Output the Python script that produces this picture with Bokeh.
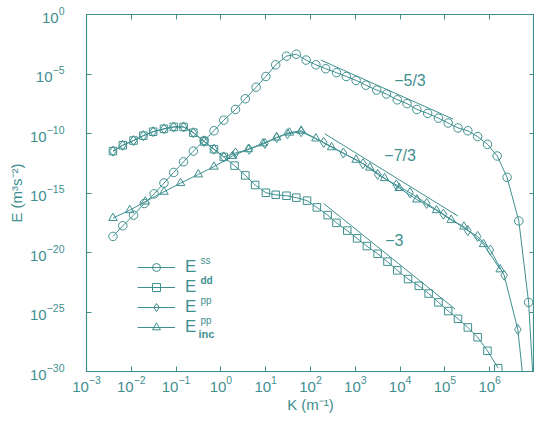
import numpy as np
from bokeh.plotting import figure
from bokeh.models import (FixedTicker, LogTickFormatter, LogAxis, Legend,
                          LegendItem, Label)
from bokeh.embed import file_html
from bokeh.resources import INLINE

# ---------------- data (log10 values) ----------------
ss_logk = [-2.409, -2.190, -1.950, -1.709, -1.490, -1.271, -1.053, -0.834,
           -0.615, -0.374, -0.155, 0.064, 0.326, 0.545, 0.786, 1.004, 1.223,
           1.464, 1.683, 1.902, 2.120, 2.339, 2.580, 2.799, 3.018, 3.236,
           3.477, 3.696, 3.937, 4.155, 4.374, 4.615, 4.856, 5.074, 5.293,
           5.512, 5.731, 5.950, 6.168, 6.387, 6.650, 6.869]
ss_loge = [-18.65, -17.75, -16.86, -15.88, -15.07, -14.17, -13.27, -12.38,
           -11.48, -10.59, -9.77, -8.88, -7.98, -7.08, -6.11, -5.21, -4.23,
           -3.50, -3.34, -3.83, -4.23, -4.56, -4.89, -5.21, -5.54, -5.94,
           -6.35, -6.68, -7.17, -7.49, -7.98, -8.31, -8.71, -9.12, -9.53,
           -9.77, -10.26, -10.91, -11.89, -13.68, -17.35, -24.19]
ss_tail_logk = [6.98]
ss_tail_loge = [-31.5]

dd_logk = [-2.409, -2.190, -1.950, -1.731, -1.512, -1.271, -1.053, -0.834,
           -0.615, -0.374, -0.155, 0.064, 0.304, 0.545, 0.764, 1.004, 1.223,
           1.464, 1.683, 1.923, 2.142, 2.383, 2.580, 2.821, 3.039, 3.258,
           3.499, 3.718, 3.937, 4.177, 4.418, 4.637, 4.856, 5.074, 5.293,
           5.512, 5.731, 5.950, 6.190]
dd_loge = [-11.48, -10.99, -10.59, -10.18, -9.85, -9.61, -9.45, -9.45,
           -9.93, -10.67, -11.32, -11.97, -12.70, -13.52, -14.33, -14.98,
           -15.15, -15.23, -15.39, -15.64, -16.21, -16.86, -17.51, -18.16,
           -18.81, -19.46, -20.11, -20.77, -21.50, -22.23, -22.80, -23.45,
           -24.19, -24.92, -25.57, -26.30, -27.12, -28.26, -29.72]

pp_logk = [-2.409, -2.190, -1.950, -1.731, -1.512, -1.271, -1.053, -0.834,
           -0.615, -0.374, -0.155, 0.064, 0.326, 0.632, 0.982, 1.245, 1.486,
           1.792, 2.295, 2.733, 3.171, 3.499, 3.915, 4.221, 4.593, 4.965,
           5.512, 5.731, 6.015, 6.322, 6.628]
pp_loge = [-11.48, -10.99, -10.59, -10.18, -9.85, -9.61, -9.45, -9.45,
           -9.93, -10.67, -11.32, -11.97, -11.64, -11.32, -10.83, -10.34,
           -10.02, -9.85, -10.75, -11.64, -12.54, -13.44, -14.33, -14.98,
           -15.88, -16.78, -18.16, -18.65, -19.79, -21.91, -26.47]
pp_tail_logk = [6.77]
pp_tail_loge = [-31.5]

inc_logk = [-2.409, -2.037, -1.687, -1.271, -0.899, -0.505, -0.155, 0.260,
            0.611, 0.939, 1.245, 1.530, 1.792, 2.120, 2.470, 3.018, 3.324,
            3.652, 3.980, 4.374, 4.812, 5.140, 5.425, 5.862, 6.234]
inc_loge = [-17.10, -16.45, -15.72, -14.90, -14.17, -13.44, -12.79, -11.89,
            -11.32, -10.83, -10.34, -9.93, -9.77, -10.42, -11.16, -12.21,
            -12.87, -13.76, -14.58, -15.55, -16.45, -17.26, -17.83, -19.30,
            -21.42]

# reference power-law lines (end points) and their labels
ref_names = ["\u22125/3", "\u22127/3", "\u22123"]
ref_logk = [[2.230, 5.184], [2.317, 5.293], [2.295, 5.228]]
ref_loge = [[-3.83, -8.79], [-10.02, -16.94], [-15.88, -24.76]]
ref_label_logk = [4.22, 4.00, 3.87]
ref_label_loge = [-5.54, -11.89, -18.97]

x_ticks = [1e-3, 1e-2, 1e-1, 1e0, 1e1, 1e2, 1e3, 1e4, 1e5, 1e6]
y_ticks = [1e-30, 1e-25, 1e-20, 1e-15, 1e-10, 1e-5, 1e0]

legend_sup = ["ss", "dd", "pp", "pp"]
legend_sub = ["", "", "", "inc"]

# ---------------- styling ----------------
C = "#3f8f8f"
FONT = "Liberation Sans"

p = figure(width=534, height=415, x_axis_type="log", y_axis_type="log",
           x_range=(1e-3, 1e7), y_range=(1e-30, 1e0),
           output_backend="svg", toolbar_location=None,
           min_border_left=86, min_border_right=0, min_border_top=14,
           min_border_bottom=37)
p.xgrid.visible = False
p.ygrid.visible = False
p.outline_line_color = C
p.outline_line_width = 1.2
p.background_fill_color = "white"
p.border_fill_color = "white"


def style_axis(ax, ticks, labels=True):
    ax.ticker = FixedTicker(ticks=ticks)
    ax.formatter = LogTickFormatter()
    ax.axis_line_color = C
    ax.major_tick_line_color = C
    ax.major_tick_in = 5
    ax.major_tick_out = 0
    ax.minor_tick_line_color = None
    ax.major_label_text_color = C if labels else None
    ax.major_label_text_font = FONT
    ax.major_label_text_font_size = "15px" if labels else "1px"
    ax.axis_label_text_color = C
    ax.axis_label_text_font = FONT
    ax.axis_label_text_font_size = "15px"
    ax.axis_label_text_font_style = "normal"
    if not labels:
        ax.major_label_standoff = 0


style_axis(p.xaxis[0], x_ticks)
style_axis(p.yaxis[0], y_ticks)
p.xaxis[0].axis_label = "K (m\u207b\u00b9)"
p.yaxis[0].axis_label = "E (m\u00b3s\u207b\u00b2)"
p.xaxis[0].major_label_standoff = 4
p.xaxis[0].axis_label_standoff = 1
p.yaxis[0].major_label_standoff = 22
p.yaxis[0].axis_label_standoff = 2

top_ax = LogAxis()
style_axis(top_ax, x_ticks, labels=False)
p.add_layout(top_ax, "above")
right_ax = LogAxis()
style_axis(right_ax, y_ticks, labels=False)
p.add_layout(right_ax, "right")


def pw(a):
    return [10.0 ** v for v in a]


lw = 1.0
r_ss_l = p.line(pw(ss_logk + ss_tail_logk), pw(ss_loge + ss_tail_loge),
                line_color=C, line_width=lw)
r_dd_l = p.line(pw(dd_logk), pw(dd_loge), line_color=C, line_width=lw)
r_pp_l = p.line(pw(pp_logk + pp_tail_logk), pw(pp_loge + pp_tail_loge),
                line_color=C, line_width=lw)
r_in_l = p.line(pw(inc_logk), pw(inc_loge), line_color=C, line_width=lw)

mk = dict(line_color=C, fill_alpha=0, line_width=1.0)
r_ss_m = p.scatter(pw(ss_logk), pw(ss_loge), marker="circle", size=8.5, **mk)
r_dd_m = p.scatter(pw(dd_logk), pw(dd_loge), marker="square", size=7.5, **mk)
r_pp_m = p.scatter(pw(pp_logk), pw(pp_loge), marker="diamond", size=10, **mk)
r_in_m = p.scatter(pw(inc_logk), pw(inc_loge), marker="triangle", size=8.5, **mk)

for lk, le in zip(ref_logk, ref_loge):
    p.line(pw(lk), pw(le), line_color=C, line_width=1.0)
for name, lk, le in zip(ref_names, ref_label_logk, ref_label_loge):
    p.add_layout(Label(x=10 ** lk, y=10 ** le, text=name, text_color=C,
                       text_font=FONT, text_font_size="16px",
                       text_align="center", text_baseline="middle"))

# legend
legend = Legend(items=[
    LegendItem(label="E", renderers=[r_ss_l, r_ss_m]),
    LegendItem(label="E", renderers=[r_dd_l, r_dd_m]),
    LegendItem(label="E", renderers=[r_pp_l, r_pp_m]),
    LegendItem(label="E", renderers=[r_in_l, r_in_m]),
], location=(51, 34), orientation="vertical", glyph_width=38,
    glyph_height=20, label_height=20, spacing=0, padding=0, margin=0,
    border_line_color=None, background_fill_alpha=0,
    label_text_font_size="17px", label_text_font=FONT, label_text_color=C,
    label_standoff=10)
p.add_layout(legend, "center")

# legend superscripts / subscript (screen offsets from frame bottom-left)
sup_y = [111, 91, 71, 51]
for yy, s in zip(sup_y, legend_sup):
    p.add_layout(Label(x=114, y=yy, x_units="screen", y_units="screen",
                       text=s, text_color=C, text_font=FONT,
                       text_font_size="10px", text_baseline="middle",
                       text_font_style="bold" if s == "dd" else "normal"))
for yy, s in zip(sup_y, legend_sub):
    if s:
        p.add_layout(Label(x=112, y=yy - 13, x_units="screen",
                           y_units="screen", text=s, text_color=C,
                           text_font=FONT, text_font_size="11px",
                           text_baseline="middle", text_font_style="bold"))

open("out.html", "w").write(file_html(p, INLINE))
